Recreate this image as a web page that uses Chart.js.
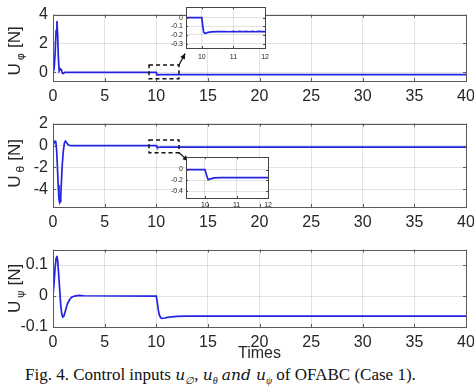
<!DOCTYPE html>
<html>
<head>
<meta charset="utf-8">
<script src="https://cdn.jsdelivr.net/npm/chart.js@4.4.1/dist/chart.umd.min.js"></script>
<style>
  html, body { margin: 0; padding: 0; background: #fff; }
  #fig { position: relative; width: 474px; height: 391px; overflow: hidden; background: #fff; }
  canvas { position: absolute; }
  #caption { position: absolute; left: 25px; top: 365px; font: 17px 'Liberation Serif', serif; color: #111; white-space: nowrap; }
  #caption i { font-family: 'DejaVu Serif', serif; font-size: 15.5px; }
  #caption sub { font-size: 10px; font-style: italic; }
</style>
</head>
<body>
<div id="fig">
  <canvas id="c1" width="500" height="109" style="left:0;top:0;width:500px;height:109px"></canvas>
  <canvas id="c2" width="500" height="126" style="left:0;top:109px;width:500px;height:126px"></canvas>
  <canvas id="c3" width="500" height="128" style="left:0;top:235px;width:500px;height:128px"></canvas>
  <canvas id="c4" width="118" height="62" style="left:156px;top:0;width:118px;height:62px"></canvas>
  <canvas id="c5" width="119" height="62" style="left:156px;top:150px;width:119px;height:62px"></canvas>
  <div id="caption">Fig. 4. Control inputs <i>u</i><sub>∅</sub>, <i>u</i><sub>θ</sub> <i>and u</i><sub>ψ</sub> of OFABC (Case 1).</div>
</div>
<script>
// time (s) and control inputs
const tPhi = [0, 0.1, 0.2, 0.3, 0.38, 0.45, 0.52, 0.6, 0.7, 0.8, 0.9, 1.0, 1.15, 1.4, 2, 10, 10.03, 10.06, 10.1, 10.2, 10.3, 10.5, 10.7, 10.9, 11.0, 11.1, 11.2, 11.3, 11.4, 11.5, 11.6, 11.7, 11.8, 11.9, 12.1, 15, 40];
const uPhi = [0, 0.2, 1.2, 2.9, 3.55, 2.6, 1.0, 0.1, 0.25, 0.2, -0.05, -0.08, 0, 0, 0, 0, -0.1, -0.17, -0.18, -0.17, -0.165, -0.162, -0.16, -0.163, -0.158, -0.163, -0.158, -0.163, -0.158, -0.163, -0.158, -0.163, -0.158, -0.162, -0.16, -0.16, -0.16];

const tTheta = [0, 0.1, 0.2, 0.28, 0.35, 0.42, 0.5, 0.58, 0.65, 0.7, 0.75, 0.82, 0.9, 1.0, 1.1, 1.2, 1.3, 1.45, 1.6, 1.8, 10, 10.05, 10.1, 10.2, 10.3, 10.5, 10.8, 11.1, 11.4, 11.7, 12.1, 15, 40];
const uTheta = [0, 0.25, 0.4, 0.3, -0.4, -1.8, -3.6, -4.9, -5.2, -5.1, -4.6, -3.2, -1.7, -0.5, 0.2, 0.4, 0.3, 0.08, 0.02, 0, 0, -0.1, -0.19, -0.17, -0.155, -0.15, -0.152, -0.148, -0.152, -0.149, -0.15, -0.15, -0.15];

const tPsi = [0, 0.1, 0.2, 0.3, 0.38, 0.45, 0.55, 0.65, 0.75, 0.85, 0.95, 1.05, 1.2, 1.4, 1.6, 1.8, 2.1, 2.5, 3, 10, 10.1, 10.2, 10.3, 10.45, 10.6, 10.8, 11.1, 11.5, 12, 13, 15, 40];
const uPsi = [0, 0.04, 0.09, 0.122, 0.13, 0.115, 0.07, 0.02, -0.03, -0.058, -0.068, -0.065, -0.048, -0.025, -0.012, -0.004, 0, 0.002, 0.001, 0, -0.02, -0.045, -0.062, -0.071, -0.072, -0.071, -0.069, -0.067, -0.066, -0.065, -0.065, -0.065];

const xTicks = [0, 5, 10, 15, 20, 25, 30, 35, 40];
const yTicksPhi = [0, 2, 4];
const yTicksTheta = [-4, -2, 0, 2];
const yTicksPsi = [-0.1, 0, 0.1];
const xTicksInset = [10, 11, 12];
const yTicksInsetPhi = [-0.3, -0.2, -0.1, 0];
const yTicksInsetTheta = [-0.4, -0.2, 0];

const BLUE = 'rgb(35,35,225)';
const GRID = 'rgba(0,0,0,0.11)';
const EDGE = '#5a5a5a';
const FONT = "'Liberation Sans', Arial, sans-serif";

// box + inward tick marks, like the MATLAB axes
const frame = {
  id: 'frame',
  beforeDraw(chart, args, o) {
    if (!o.fill) return;
    const a = chart.chartArea, ctx = chart.ctx;
    ctx.save();
    ctx.fillStyle = '#fff';
    ctx.fillRect(a.left, a.top, a.right - a.left, a.bottom - a.top);
    ctx.restore();
  },
  afterDatasetsDraw(chart, args, o) {
    const a = chart.chartArea, ctx = chart.ctx;
    const len = o.tick || 3;
    ctx.save();
    ctx.strokeStyle = o.color || EDGE;
    ctx.lineWidth = 1;
    ctx.beginPath();
    chart.scales.x.ticks.forEach(t => {
      const px = Math.round(chart.scales.x.getPixelForValue(t.value)) + 0.5;
      ctx.moveTo(px, a.top); ctx.lineTo(px, a.top + len);
      ctx.moveTo(px, a.bottom); ctx.lineTo(px, a.bottom - len);
    });
    chart.scales.y.ticks.forEach(t => {
      const py = Math.round(chart.scales.y.getPixelForValue(t.value)) + 0.5;
      ctx.moveTo(a.left, py); ctx.lineTo(a.left + len, py);
      ctx.moveTo(a.right, py); ctx.lineTo(a.right - len, py);
    });
    ctx.stroke();
    ctx.strokeRect(Math.round(a.left) + 0.5, Math.round(a.top) + 0.5, Math.round(a.right - a.left), Math.round(a.bottom - a.top));
    ctx.restore();
  }
};

// rotated "U_sub [N]" label
const yLabel = {
  id: 'yLabel',
  afterDraw(chart, args, o) {
    if (!o.sub) return;
    const a = chart.chartArea, ctx = chart.ctx;
    ctx.save();
    ctx.translate(20, (a.top + a.bottom) / 2 + (o.dy || 0));
    ctx.rotate(-Math.PI / 2);
    ctx.fillStyle = '#262626';
    ctx.textBaseline = 'alphabetic';
    const big = '17px ' + FONT, small = "11px 'DejaVu Sans', sans-serif";
    ctx.font = big;
    const wU = ctx.measureText('U').width, wN = ctx.measureText('[N]').width;
    ctx.font = small;
    const wS = ctx.measureText(o.sub).width;
    const gap = 3;
    let x = -(wU + wS + wN + 2 * gap + 2) / 2;
    ctx.font = big;
    ctx.fillText('U', x, 0);
    x += wU + gap;
    ctx.font = small;
    ctx.fillText(o.sub, x, 4);
    x += wS + gap + 2;
    ctx.font = big;
    ctx.fillText('[N]', x, 0);
    ctx.restore();
  }
};

// dashed zoom box with an arrow toward the inset
const zoomBox = {
  id: 'zoomBox',
  afterDatasetsDraw(chart, args, o) {
    if (!o.box) return;
    const {x, y} = chart.scales, ctx = chart.ctx, b = o.box;
    const x0 = x.getPixelForValue(b[0]), x1 = x.getPixelForValue(b[1]);
    const y0 = y.getPixelForValue(b[2]), y1 = y.getPixelForValue(b[3]);
    ctx.save();
    ctx.strokeStyle = '#111';
    ctx.lineWidth = 1.5;
    ctx.setLineDash([4, 3]);
    ctx.strokeRect(x0, y1, x1 - x0, y0 - y1);
    ctx.setLineDash([]);
    const sx = x.getPixelForValue(o.from[0]), sy = y.getPixelForValue(o.from[1]);
    const ex = x.getPixelForValue(o.to[0]), ey = y.getPixelForValue(o.to[1]);
    ctx.lineWidth = 1.2;
    ctx.beginPath(); ctx.moveTo(sx, sy); ctx.lineTo(ex, ey); ctx.stroke();
    const ang = Math.atan2(ey - sy, ex - sx), h = 6;
    ctx.fillStyle = '#111';
    ctx.beginPath();
    ctx.moveTo(ex, ey);
    ctx.lineTo(ex - h * Math.cos(ang - 0.45), ey - h * Math.sin(ang - 0.45));
    ctx.lineTo(ex - h * Math.cos(ang + 0.45), ey - h * Math.sin(ang + 0.45));
    ctx.closePath(); ctx.fill();
    ctx.restore();
  }
};

function series(t, u) {
  return [{ data: t.map((v, i) => ({x: v, y: u[i]})), borderColor: BLUE, borderWidth: 1.7, pointRadius: 0, tension: 0, fill: false }];
}

function mainChart(id, t, u, o) {
  return new Chart(document.getElementById(id), {
    type: 'line',
    data: { datasets: series(t, u) },
    options: {
      responsive: false, animation: false, events: [],
      layout: { padding: { top: o.padTop, right: 34, left: 0, bottom: 0 } },
      plugins: {
        legend: { display: false }, tooltip: { enabled: false },
        yLabel: { sub: o.sub, dy: o.dy },
        zoomBox: o.zoom || {},
        frame: {}
      },
      scales: {
        x: {
          type: 'linear', min: 0, max: 40,
          afterBuildTicks: s => { s.ticks = xTicks.map(v => ({value: v})); },
          afterFit: s => { s.height = o.xHeight; },
          grid: { color: GRID, drawTicks: false },
          border: { display: false },
          ticks: { padding: 6, autoSkip: false, maxRotation: 0, color: '#262626', font: { family: FONT, size: 16 } },
          title: { display: !!o.xTitle, text: o.xTitle || '', color: '#262626', padding: 0, font: { family: FONT, size: 16 } }
        },
        y: {
          type: 'linear', min: o.yMin, max: o.yMax,
          afterBuildTicks: s => { s.ticks = o.yTicks.map(v => ({value: v})); },
          afterFit: s => { s.width = 53; },
          grid: { color: GRID, drawTicks: false },
          border: { display: false },
          ticks: { padding: 5, color: '#262626', font: { family: FONT, size: 16 } }
        }
      }
    },
    plugins: [frame, yLabel, zoomBox]
  });
}

function insetChart(id, t, u, o) {
  return new Chart(document.getElementById(id), {
    type: 'line',
    data: { datasets: series(t, u) },
    options: {
      responsive: false, animation: false, events: [],
      layout: { padding: { top: o.padTop, right: 6, left: 0, bottom: 0 } },
      plugins: { legend: { display: false }, tooltip: { enabled: false }, frame: { fill: true, tick: 2, color: '#444' } },
      scales: {
        x: {
          type: 'linear', min: o.xMin, max: 12,
          afterBuildTicks: s => { s.ticks = xTicksInset.map(v => ({value: v})); },
          afterFit: s => { s.height = 14; },
          grid: { color: GRID, drawTicks: false },
          border: { display: false },
          ticks: { padding: o.xPad, autoSkip: false, maxRotation: 0, color: '#262626', font: { family: FONT, size: 7 } }
        },
        y: {
          type: 'linear', min: o.yMin, max: o.yMax,
          afterBuildTicks: s => { s.ticks = o.yTicks.map(v => ({value: v})); },
          afterFit: s => { s.width = 30; },
          grid: { color: GRID, drawTicks: false },
          border: { display: false },
          ticks: { padding: 3, color: '#262626', font: { family: FONT, size: 7 } }
        }
      }
    },
    plugins: [frame]
  });
}

mainChart('c1', tPhi, uPhi, {
  padTop: 7, xHeight: 28, yMin: -0.6, yMax: 4, yTicks: yTicksPhi, sub: 'φ', dy: 3,
  zoom: { box: [9.3, 12.2, -0.44, 0.5], from: [12.2, 0.5], to: [12.8, 1.3] }
});
mainChart('c2', tTheta, uTheta, {
  padTop: 6, xHeight: 28, yMin: -5.6, yMax: 2, yTicks: yTicksTheta, sub: 'θ', dy: -2,
  zoom: { box: [9.3, 12.2, -0.65, 0.5], from: [12.2, -0.65], to: [13.1, -1.4] }
});
mainChart('c3', tPsi, uPsi, {
  padTop: 5, xHeight: 36, yMin: -0.1, yMax: 0.15, yTicks: yTicksPsi, sub: 'ψ', dy: 0, xTitle: 'Times'
});
insetChart('c4', tPhi, uPhi, { padTop: 1, xPad: 5, xMin: 9.5, yMin: -0.35, yMax: 0.12, yTicks: yTicksInsetPhi });
insetChart('c5', tTheta, uTheta, { padTop: 5, xPad: 3, xMin: 9.4, yMin: -0.53, yMax: 0.23, yTicks: yTicksInsetTheta });
</script>
</body>
</html>
